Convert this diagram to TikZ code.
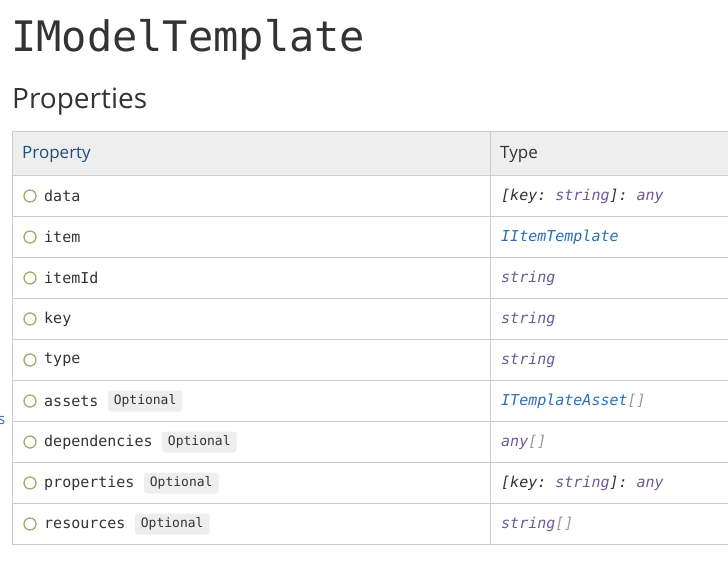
\documentclass[tikz,border=0pt]{standalone}
\usepackage{fontspec}
\setmainfont{Open Sans}
\setmonofont{DejaVu Sans Mono}
\definecolor{grid}{HTML}{CCCCCC}
\definecolor{hdr}{HTML}{EEEEEE}
\definecolor{txt}{HTML}{333333}
\definecolor{purp}{HTML}{6B5B95}
\definecolor{lnk}{HTML}{2C6FAF}
\definecolor{olive}{HTML}{9DAE6E}
\definecolor{brk}{HTML}{999999}
\begin{document}
\begin{tikzpicture}[x=1pt,y=-1pt,
  prop/.style={anchor=west,font=\fontsize{15}{15}\selectfont\ttfamily,text=txt,inner sep=0},
  typ/.style={anchor=west,font=\fontsize{15}{15}\selectfont\ttfamily\itshape,text=purp,inner sep=0},
  opt/.style={anchor=west,fill=hdr,rounded corners=3pt,font=\fontsize{13}{13}\selectfont\ttfamily,text=txt,inner xsep=6pt,inner ysep=4pt,minimum height=21pt},
  dot/.style={circle,draw=olive,line width=1.3pt,minimum size=12pt,inner sep=0}]
\useasboundingbox (0,0) rectangle (728,567);
\node[anchor=base west,inner sep=0,font=\fontsize{42}{42}\selectfont\ttfamily,text=txt] (title) at (11,52) {IModelTemplate};
\node[anchor=base west,inner sep=0,font=\fontsize{28}{28}\selectfont,text=txt] (sub) at (12,109) {Properties};
\fill[hdr] (12,132) rectangle (728,175);
\draw[grid,line width=1pt] (728,132) -- (12,132) -- (12,544) -- (728,544);
\draw[grid,line width=1pt] (490,132) -- (490,544);
\foreach \y in {175,216,257,298,339,380,421,462,503} \draw[grid,line width=1pt] (12,\y) -- (728,\y);
\node[anchor=west,inner sep=0,font=\fontsize{17}{17}\selectfont,text=lnk!70!black] (h1) at (22,154) {Property};
\node[anchor=west,inner sep=0,font=\fontsize{17}{17}\selectfont,text=txt] (h2) at (500,154) {Type};
\node[anchor=west,inner sep=0,font=\fontsize{15}{15}\selectfont,text=lnk] (s) at (-2,420) {s};
\foreach \n/\y in {data/196,item/237,itemId/278,key/319,type/360,assets/401,dependencies/442,properties/483,resources/524}{
  \node[dot] (d\n) at (30,\y) {};
  \node[prop] (p\n) at (44,\y) {\n};
}
\node[opt] (o1) at ([xshift=9pt]passets.east) {Optional};
\node[opt] (o2) at ([xshift=9pt]pdependencies.east) {Optional};
\node[opt] (o3) at ([xshift=9pt]pproperties.east) {Optional};
\node[opt] (o4) at ([xshift=9pt]presources.east) {Optional};
\node[typ] (t1) at (501,196) {\textcolor{txt}{[key:} string\textcolor{txt}{]:} any};
\node[typ,text=lnk] (t2) at (501,237) {IItemTemplate};
\node[typ] (t3) at (501,278) {string};
\node[typ] (t4) at (501,319) {string};
\node[typ] (t5) at (501,360) {string};
\node[typ,text=lnk] (t6) at (501,401) {ITemplateAsset\textcolor{brk}{[]}};
\node[typ] (t7) at (501,442) {any\textcolor{brk}{[]}};
\node[typ] (t8) at (501,483) {\textcolor{txt}{[key:} string\textcolor{txt}{]:} any};
\node[typ] (t9) at (501,524) {string\textcolor{brk}{[]}};
\end{tikzpicture}
\end{document}
